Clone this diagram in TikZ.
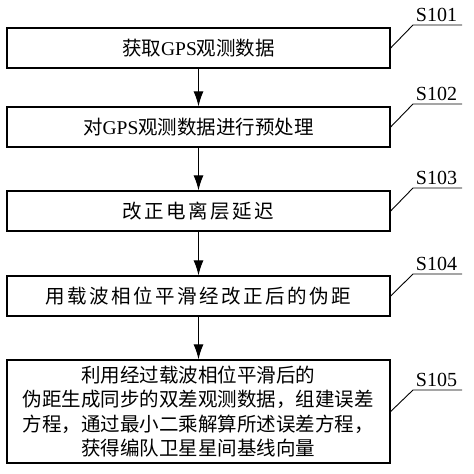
\documentclass[tikz,border=0pt]{standalone}
\usepackage{fontspec}
\setmainfont{Noto Sans CJK SC}
\newfontfamily\latin{Liberation Serif}
\usepackage{tikz}
\usetikzlibrary{positioning,arrows.meta,calc}

\begin{document}
\begin{tikzpicture}[
    x=1pt, y=-1pt,
    stepbox/.style={draw=black, line width=1.3pt, minimum width=383pt, minimum height=40pt, inner sep=2pt, align=center, font=\fontsize{19.5}{24.5}\selectfont},
    flow/.style={draw=black, line width=1.1pt, -{Latex[length=15pt,width=10pt]}},
    leader/.style={draw=black, line width=0.9pt},
    steplabel/.style={font=\latin\fontsize{20}{22}\selectfont, inner sep=1pt, anchor=south}
]
    \useasboundingbox (0,0) rectangle (474,474);

    % Passi del diagramma
    \node[stepbox] (b1) at (198.5, 48) {获取{\latin GPS}观测数据};
    \node[stepbox] (b2) at (198.5, 127) {对{\latin GPS}观测数据进行预处理};
    \node[stepbox] (b3) at (198.5, 211) {\addfontfeature{LetterSpace=13}改正电离层延迟};
    \node[stepbox] (b4) at (198.5, 296) {\addfontfeature{LetterSpace=13}用载波相位平滑经改正后的伪距};
    \node[stepbox, minimum height=103pt] (b5) at (198.5, 411.5) {利用经过载波相位平滑后的\\伪距生成同步的双差观测数据，组建误差\\方程，通过最小二乘解算所述误差方程，\\获得编队卫星星间基线向量};

    \draw[flow] (b1) -- (b2);
    \draw[flow] (b2) -- (b3);
    \draw[flow] (b3) -- (b4);
    \draw[flow] (b4) -- (b5);

    % Etichette dei passi
    \coordinate (k1) at (413, 25);   \coordinate (e1) at (462, 25);
    \coordinate (k2) at (413, 104);  \coordinate (e2) at (462, 104);
    \coordinate (k3) at (413, 188);  \coordinate (e3) at (462, 188);
    \coordinate (k4) at (413, 274);  \coordinate (e4) at (462, 274);
    \coordinate (k5) at (413, 390);  \coordinate (e5) at (462, 390);

    \draw[leader] (b1.east) -- (k1) -- (e1);
    \draw[leader] (b2.east) -- (k2) -- (e2);
    \draw[leader] (b3.east) -- (k3) -- (e3);
    \draw[leader] (b4.east) -- (k4) -- (e4);
    \draw[leader] (b5.east) -- (k5) -- (e5);

    \node[steplabel] (l1) at ($(k1)!0.5!(e1)+(-1,-2)$) {S101};
    \node[steplabel] (l2) at ($(k2)!0.5!(e2)+(-1,-2)$) {S102};
    \node[steplabel] (l3) at ($(k3)!0.5!(e3)+(-1,-2)$) {S103};
    \node[steplabel] (l4) at ($(k4)!0.5!(e4)+(-1,-2)$) {S104};
    \node[steplabel] (l5) at ($(k5)!0.5!(e5)+(-1,-2)$) {S105};
\end{tikzpicture}
\end{document}
